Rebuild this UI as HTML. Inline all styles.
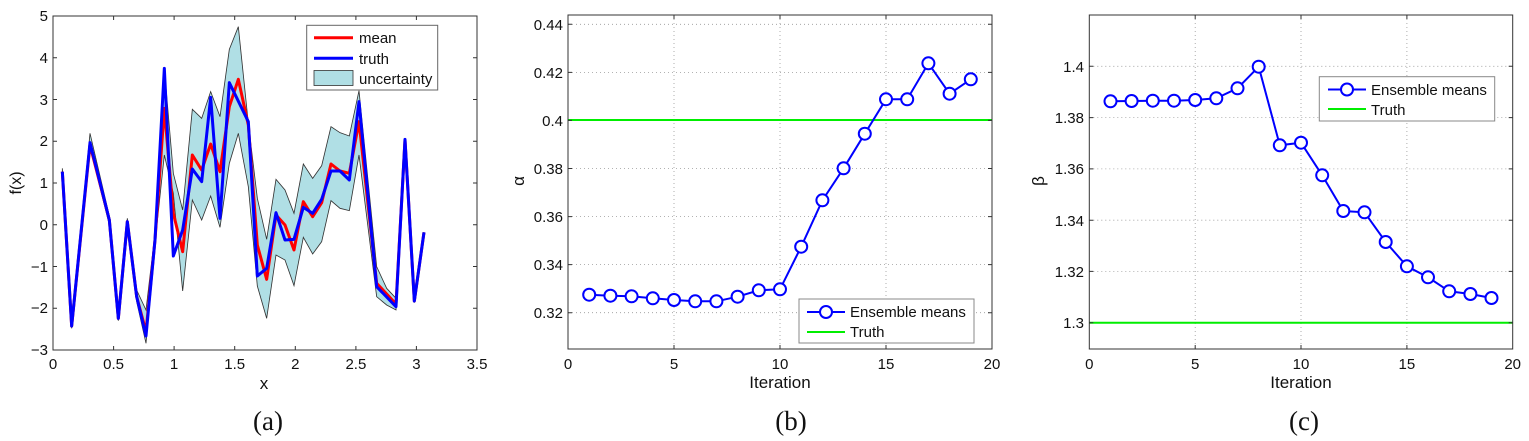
<!DOCTYPE html>
<html><head><meta charset="utf-8"><style>
html,body{margin:0;padding:0;background:#fff}
svg{display:block}
text{font-family:"Liberation Sans",sans-serif;fill:#111}
.t{font-size:15px}
.s{font-family:"Liberation Serif",serif;font-size:27px}
</style></head><body>
<svg width="1529" height="441" viewBox="0 0 1529 441" xmlns="http://www.w3.org/2000/svg">
<!-- Panel A -->
<g transform="scale(0.33333)">
<polygon fill="#b0dfe5" stroke="#333" stroke-width="2.5" points="187,505 215,970 270,400 328,648 355,950 382,655 410,870 438,930 465,700 493,205 520,520 548,630 577,328 605,355 632,275 660,350 688,148 715,80 745,370 772,595 800,718 828,538 855,570 882,640 910,492 938,535 965,497 993,380 1020,398 1048,408 1077,272 1130,800 1160,865 1188,895 1215,418 1243,900 1272,697 1272,700 1243,908 1215,425 1188,930 1160,915 1130,890 1077,465 1048,632 1020,625 993,602 965,725 938,762 910,712 882,857 855,780 828,765 800,955 772,858 745,560 715,400 688,490 660,682 632,588 605,660 577,600 548,873 520,580 493,465 465,730 438,1030 410,905 382,670 355,962 328,675 270,440 215,985 187,520"/>
<polyline fill="none" stroke="#f00" stroke-width="9" stroke-linejoin="round" points="187,515 215,978 270,435 328,660 355,955 382,665 410,890 438,995 465,720 493,325 520,640 548,755 577,465 605,510 632,432 660,515 688,320 715,238 745,375 772,735 800,838 828,645 855,675 882,750 910,605 938,650 965,608 993,492 1020,513 1048,520 1077,365 1130,850 1188,912 1215,420 1243,903 1272,697"/>
<polyline fill="none" stroke="#00f" stroke-width="9" stroke-linejoin="round" points="187,515 215,978 270,428 328,660 355,955 382,665 410,890 438,1008 465,720 493,205 520,768 548,690 577,507 605,545 632,292 660,655 688,248 745,365 772,828 800,805 828,638 855,720 882,718 910,622 938,640 965,598 993,513 1020,513 1048,540 1077,305 1130,860 1188,920 1215,418 1243,903 1272,697"/>
</g>
<rect x="53" y="16" width="424" height="334" fill="none" stroke="#333" stroke-width="1"/>
<g stroke="#333" stroke-width="1">
<path d="M113.6,350v-4M174.1,350v-4M234.7,350v-4M295.3,350v-4M355.9,350v-4M416.4,350v-4M113.6,16v4M174.1,16v4M234.7,16v4M295.3,16v4M355.9,16v4M416.4,16v4"/>
<path d="M53,57.75h4M53,99.5h4M53,141.25h4M53,183h4M53,224.75h4M53,266.5h4M53,308.25h4M477,57.75h-4M477,99.5h-4M477,141.25h-4M477,183h-4M477,224.75h-4M477,266.5h-4M477,308.25h-4"/>
</g>
<g class="t" text-anchor="middle">
<text x="53" y="369">0</text><text x="113.6" y="369">0.5</text><text x="174.1" y="369">1</text><text x="234.7" y="369">1.5</text><text x="295.3" y="369">2</text><text x="355.9" y="369">2.5</text><text x="416.4" y="369">3</text><text x="477" y="369">3.5</text>
</g>
<g class="t" text-anchor="end">
<text x="48" y="21">5</text><text x="48" y="63">4</text><text x="48" y="105">3</text><text x="48" y="146">2</text><text x="48" y="188">1</text><text x="48" y="230">0</text><text x="48" y="272">−1</text><text x="48" y="313">−2</text><text x="48" y="355">−3</text>
</g>
<text class="t" x="264" y="389" text-anchor="middle" style="font-size:17px">x</text>
<text class="t" transform="translate(21,183) rotate(-90)" text-anchor="middle" style="font-size:16px">f(x)</text>
<rect x="306.7" y="25.3" width="131" height="64.7" fill="#fff" stroke="#666" stroke-width="1"/>
<line x1="314" y1="37.7" x2="353" y2="37.7" stroke="#f00" stroke-width="3"/>
<line x1="314" y1="58.3" x2="353" y2="58.3" stroke="#00f" stroke-width="3"/>
<rect x="314" y="70.5" width="39" height="15" fill="#b0dfe5" stroke="#333" stroke-width="0.8"/>
<g class="t"><text x="359" y="43">mean</text><text x="359" y="64">truth</text><text x="359" y="84">uncertainty</text></g>
<text class="s" x="268" y="430" text-anchor="middle">(a)</text>

<!-- Panel B -->
<g stroke="#999" stroke-width="0.8" stroke-dasharray="1,3">
<path d="M674,15V349M780,15V349M886,15V349M568,264.6H992M568,216.6H992M568,168.5H992M568,72.4H992M568,24.3H992M568,312.7H992"/>
</g>
<line x1="568" y1="120" x2="992" y2="120" stroke="#0e0" stroke-width="2"/>
<polyline fill="none" stroke="#00f" stroke-width="2" points="589.2,294.7 610.4,295.7 631.6,296.3 652.8,298.3 674,300 695.2,301.3 716.4,301.3 737.6,296.7 758.8,290.3 780,289.3 801.2,246.7 822.4,200.3 843.6,168.3 864.8,133.7 886,99.3 907.2,99.3 928.4,63.3 949.6,93.7 970.8,79.3"/>
<g fill="#fff" stroke="#00f" stroke-width="2">
<circle cx="589.2" cy="294.7" r="6"/><circle cx="610.4" cy="295.7" r="6"/><circle cx="631.6" cy="296.3" r="6"/><circle cx="652.8" cy="298.3" r="6"/><circle cx="674" cy="300" r="6"/><circle cx="695.2" cy="301.3" r="6"/><circle cx="716.4" cy="301.3" r="6"/><circle cx="737.6" cy="296.7" r="6"/><circle cx="758.8" cy="290.3" r="6"/><circle cx="780" cy="289.3" r="6"/><circle cx="801.2" cy="246.7" r="6"/><circle cx="822.4" cy="200.3" r="6"/><circle cx="843.6" cy="168.3" r="6"/><circle cx="864.8" cy="133.7" r="6"/><circle cx="886" cy="99.3" r="6"/><circle cx="907.2" cy="99.3" r="6"/><circle cx="928.4" cy="63.3" r="6"/><circle cx="949.6" cy="93.7" r="6"/><circle cx="970.8" cy="79.3" r="6"/>
</g>
<rect x="568" y="15" width="424" height="334" fill="none" stroke="#333" stroke-width="1"/>
<g stroke="#333" stroke-width="1">
<path d="M674,349v-4M780,349v-4M886,349v-4M674,15v4M780,15v4M886,15v4M568,24.3h4M568,72.4h4M568,120.4h4M568,168.5h4M568,216.6h4M568,264.6h4M568,312.7h4M992,24.3h-4M992,72.4h-4M992,120.4h-4M992,168.5h-4M992,216.6h-4M992,264.6h-4M992,312.7h-4"/>
</g>
<g class="t" text-anchor="middle">
<text x="568" y="369">0</text><text x="674" y="369">5</text><text x="780" y="369">10</text><text x="886" y="369">15</text><text x="992" y="369">20</text>
</g>
<g class="t" text-anchor="end">
<text x="563" y="30">0.44</text><text x="563" y="78">0.42</text><text x="563" y="126">0.4</text><text x="563" y="174">0.38</text><text x="563" y="222">0.36</text><text x="563" y="270">0.34</text><text x="563" y="318">0.32</text>
</g>
<text class="t" x="780" y="388" text-anchor="middle" style="font-size:17px">Iteration</text>
<text class="t" transform="translate(524,181) rotate(-90)" text-anchor="middle" style="font-size:17px">α</text>
<rect x="799" y="299" width="175" height="44" fill="#fff" stroke="#888" stroke-width="1"/>
<line x1="807" y1="312" x2="845" y2="312" stroke="#00f" stroke-width="2"/>
<circle cx="826" cy="312" r="6" fill="#fff" stroke="#00f" stroke-width="2"/>
<line x1="807" y1="332" x2="845" y2="332" stroke="#0e0" stroke-width="2"/>
<g class="t"><text x="850" y="317">Ensemble means</text><text x="850" y="337">Truth</text></g>
<text class="s" x="791" y="430" text-anchor="middle">(b)</text>

<!-- Panel C -->
<g stroke="#999" stroke-width="0.8" stroke-dasharray="1,3">
<path d="M1195.2,15V349M1301,15V349M1406.9,15V349M1089.3,271.4H1512.7M1089.3,220.2H1512.7M1089.3,168.9H1512.7M1089.3,117.6H1512.7M1089.3,66.3H1512.7"/>
</g>
<line x1="1089.3" y1="322.7" x2="1512.7" y2="322.7" stroke="#0e0" stroke-width="2"/>
<polyline fill="none" stroke="#00f" stroke-width="2" points="1110.5,101.3 1131.6,101 1152.8,100.7 1174,100.7 1195.2,100 1216.3,98.3 1237.5,88.3 1258.7,66.7 1279.8,145.3 1301,142.7 1322.2,175.3 1343.3,211 1364.5,212.3 1385.7,242 1406.9,266.3 1428,277.3 1449.2,291.3 1470.4,294 1491.5,298"/>
<g fill="#fff" stroke="#00f" stroke-width="2">
<circle cx="1110.5" cy="101.3" r="6"/><circle cx="1131.6" cy="101" r="6"/><circle cx="1152.8" cy="100.7" r="6"/><circle cx="1174" cy="100.7" r="6"/><circle cx="1195.2" cy="100" r="6"/><circle cx="1216.3" cy="98.3" r="6"/><circle cx="1237.5" cy="88.3" r="6"/><circle cx="1258.7" cy="66.7" r="6"/><circle cx="1279.8" cy="145.3" r="6"/><circle cx="1301" cy="142.7" r="6"/><circle cx="1322.2" cy="175.3" r="6"/><circle cx="1343.3" cy="211" r="6"/><circle cx="1364.5" cy="212.3" r="6"/><circle cx="1385.7" cy="242" r="6"/><circle cx="1406.9" cy="266.3" r="6"/><circle cx="1428" cy="277.3" r="6"/><circle cx="1449.2" cy="291.3" r="6"/><circle cx="1470.4" cy="294" r="6"/><circle cx="1491.5" cy="298" r="6"/>
</g>
<rect x="1089.3" y="15" width="423.4" height="334" fill="none" stroke="#333" stroke-width="1"/>
<g stroke="#333" stroke-width="1">
<path d="M1195.2,349v-4M1301,349v-4M1406.9,349v-4M1195.2,15v4M1301,15v4M1406.9,15v4M1089.3,66.3h4M1089.3,117.6h4M1089.3,168.9h4M1089.3,220.2h4M1089.3,271.4h4M1089.3,322.7h4M1512.7,66.3h-4M1512.7,117.6h-4M1512.7,168.9h-4M1512.7,220.2h-4M1512.7,271.4h-4M1512.7,322.7h-4"/>
</g>
<g class="t" text-anchor="middle">
<text x="1089.3" y="369">0</text><text x="1195.2" y="369">5</text><text x="1301" y="369">10</text><text x="1406.9" y="369">15</text><text x="1512.7" y="369">20</text>
</g>
<g class="t" text-anchor="end">
<text x="1084" y="72">1.4</text><text x="1084" y="123">1.38</text><text x="1084" y="174">1.36</text><text x="1084" y="226">1.34</text><text x="1084" y="277">1.32</text><text x="1084" y="328">1.3</text>
</g>
<text class="t" x="1301" y="388" text-anchor="middle" style="font-size:17px">Iteration</text>
<text class="t" transform="translate(1044,181) rotate(-90)" text-anchor="middle" style="font-size:17px">β</text>
<rect x="1319.3" y="76.7" width="175.4" height="44.3" fill="#fff" stroke="#888" stroke-width="1"/>
<line x1="1328" y1="89.5" x2="1366" y2="89.5" stroke="#00f" stroke-width="2"/>
<circle cx="1347" cy="89.5" r="6" fill="#fff" stroke="#00f" stroke-width="2"/>
<line x1="1328" y1="109" x2="1366" y2="109" stroke="#0e0" stroke-width="2"/>
<g class="t"><text x="1371" y="95">Ensemble means</text><text x="1371" y="115">Truth</text></g>
<text class="s" x="1304" y="430" text-anchor="middle">(c)</text>
</svg>
</body></html>
